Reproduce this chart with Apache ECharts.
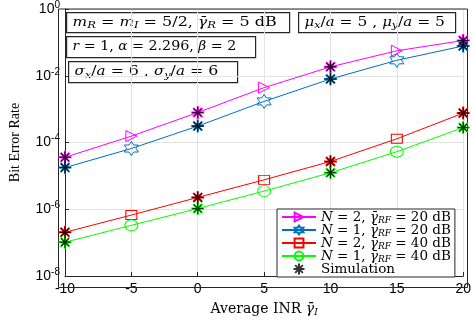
<!DOCTYPE html>
<html><head><meta charset="utf-8">
<script src="https://cdn.jsdelivr.net/npm/echarts@6/dist/echarts.min.js"></script>
<style>html,body{margin:0;padding:0;background:#fff}#c{width:474px;height:322px}</style>
</head><body><div id="c"></div>
<script>
const xValues = [-10, -5, 0, 5, 10, 15, 20];
const simX = [-10, 0, 10, 20];
const berN2_20 = [3.6e-5, 1.55e-4, 7.9e-4, 4.4e-3, 1.85e-2, 5.6e-2, 0.114];
const berN1_20 = [1.77e-5, 6.6e-5, 3.1e-4, 1.7e-3, 8.0e-3, 2.9e-2, 7.8e-2];
const berN2_40 = [2.04e-7, 6.7e-7, 2.26e-6, 7.6e-6, 2.7e-5, 1.29e-4, 7.6e-4];
const berN1_40 = [1.03e-7, 3.3e-7, 1.05e-6, 3.5e-6, 1.24e-5, 5.3e-5, 2.8e-4];
const yTickExponents = [0, -2, -4, -6, -8];
const xTicks = [-10, -5, 0, 5, 10, 15, 20];

const SERIF = "'DejaVu Serif', 'Liberation Serif', serif";
const SANS = "'Liberation Sans', Arial, sans-serif";
const rich = {
  i: {fontStyle: 'italic', fontFamily: SERIF},
  sub: {fontSize: 9, fontStyle: 'italic', fontFamily: SERIF, padding: [7, 0, 0, 0]}
};

function hexagramPath() {
  let p = '';
  for (let k = 0; k < 12; k++) {
    const a = -Math.PI / 2 + k * Math.PI / 6;
    const r = (k % 2 === 0) ? 1 : 0.5774;
    p += (k === 0 ? 'M' : 'L') + (r * Math.cos(a)).toFixed(4) + ',' + (r * Math.sin(a)).toFixed(4);
  }
  return 'path://' + p + 'Z';
}
const TRI = 'path://M-1,-1L1,0L-1,1Z';
const HEX = hexagramPath();
const AST = 'path://M0,-1L0,1M-1,0L1,0M-0.7,-0.7L0.7,0.7M-0.7,0.7L0.7,-0.7';

const defs = [
  {name: 'a', vals: berN2_20, color: '#FF00FF', symbol: TRI, size: [11, 11], label: '{i|N} = 2, {i|γ̄}{sub|RF} = 20 dB'},
  {name: 'b', vals: berN1_20, color: '#0072BD', symbol: HEX, size: [14, 14], label: '{i|N} = 1, {i|γ̄}{sub|RF} = 20 dB'},
  {name: 'c', vals: berN2_40, color: '#FF0000', symbol: 'rect', size: [11, 9], label: '{i|N} = 2, {i|γ̄}{sub|RF} = 40 dB'},
  {name: 'd', vals: berN1_40, color: '#00FF00', symbol: 'circle', size: [13, 11], label: '{i|N} = 1, {i|γ̄}{sub|RF} = 40 dB'}
];
const labelMap = {};
defs.forEach(d => labelMap[d.name] = d.label);
labelMap['Simulation'] = 'Simulation';

const series = defs.map(d => ({
  name: d.name, type: 'line', symbol: d.symbol, symbolSize: d.size,
  lineStyle: {color: d.color, width: 1},
  itemStyle: {color: 'transparent', borderColor: d.color, borderWidth: 1},
  z: 3,
  data: xValues.map((x, i) => simX.includes(x)
    ? {value: [x, d.vals[i]], symbol: AST, symbolSize: 13, itemStyle: {borderWidth: 2, borderColor: d.color}}
    : [x, d.vals[i]])
}));
const simData = [];
defs.forEach(d => simX.forEach(x => simData.push([x, d.vals[xValues.indexOf(x)]])));
series.push({
  name: 'Simulation', type: 'scatter', symbol: AST, symbolSize: 11, z: 5,
  itemStyle: {color: 'transparent', borderColor: '#000', borderWidth: 1.2},
  data: simData
});

function box(left, top, text, w, h, sx) {
  return {type: 'group', left: left, top: top, z: 100, children: [
    {type: 'rect', shape: {x: 0, y: 0, width: w, height: h}, style: {fill: '#fff', stroke: '#262626', lineWidth: 1.2}},
    {type: 'text', x: 6, y: h / 2, scaleX: sx, style: {text: text, rich: rich, fill: '#000', fontFamily: SERIF, fontSize: 12.5, verticalAlign: 'middle'}}
  ]};
}

const chart = echarts.init(document.getElementById('c'), null, {renderer: 'canvas'});
chart.setOption({
  animation: false,
  backgroundColor: '#fff',
  grid: {left: 56, right: 9, top: 6.5, bottom: 37, show: false},
  xAxis: {
    type: 'value', min: -10, max: 20, interval: 5,
    axisLine: {show: true, onZero: false, lineStyle: {color: '#262626', width: 1}},
    axisTick: {inside: true, length: 4, lineStyle: {color: '#262626'}},
    axisLabel: {color: '#000', fontFamily: SANS, fontSize: 14, margin: 6},
    splitLine: {show: true, lineStyle: {color: '#e3e3e3', width: 1}},
    name: 'Average INR {i|γ̄}{sub|I}', nameLocation: 'middle', nameGap: 25,
    nameTextStyle: {color: '#000', fontFamily: SERIF, fontSize: 14, rich: rich}
  },
  yAxis: {
    type: 'log', logBase: 10, min: 1e-8, max: 1, interval: 2,
    axisLine: {show: true, onZero: false, lineStyle: {color: '#262626', width: 1}},
    axisTick: {inside: true, length: 4, lineStyle: {color: '#262626'}},
    axisLabel: {color: '#000', fontFamily: SANS, fontSize: 14, margin: 5,
      formatter: v => '10{sup|' + Math.round(Math.log10(v)) + '}',
      rich: {sup: {fontSize: 10, fontFamily: SANS, padding: [0, 0, 8, 0]}}},
    splitLine: {show: true, lineStyle: {color: '#e3e3e3', width: 1}},
    name: 'Bit Error Rate', nameLocation: 'middle', nameGap: 43,
    nameTextStyle: {color: '#000', fontFamily: "'Liberation Serif', serif", fontSize: 14}
  },
  legend: {
    orient: 'vertical', left: 277, top: 209, itemWidth: 34, itemHeight: 11, itemGap: -2,
    padding: [1, 4, 1, 4], backgroundColor: '#fff', borderColor: '#262626', borderWidth: 1,
    textStyle: {color: '#000', fontFamily: SERIF, fontSize: 13.5, rich: rich},
    formatter: n => labelMap[n],
    data: ['a', 'b', 'c', 'd', 'Simulation']
  },
  graphic: [
    box(66, 12, '{i|m}{sub|R} = {i|m}{sub|I} = 5/2, {i|γ̄}{sub|R} = 5 dB', 223, 20, 1.28),
    box(298, 12, '{i|μ}{sub|x}/{i|a} = 5 , {i|μ}{sub|y}/{i|a} = 5', 157, 20, 1.24),
    box(66, 36, '{i|r} = 1, {i|α} = 2.296, {i|β} = 2', 189, 21, 1.14),
    box(68, 61, '{i|σ}{sub|x}/{i|a} = 6 , {i|σ}{sub|y}/{i|a} = 6', 169, 21, 1.26),
    {type: 'rect', left: 56, top: 6.5, z: 1, silent: true,
     shape: {x: 0, y: 0, width: 409, height: 278.5},
     style: {fill: 'none', stroke: '#262626', lineWidth: 1}}
  ],
  series: series
});
</script></body></html>
